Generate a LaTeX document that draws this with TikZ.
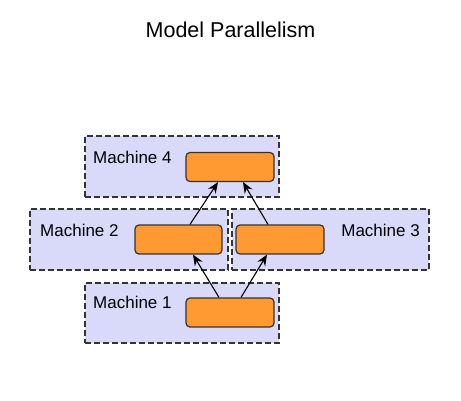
\documentclass[tikz,border=0pt]{standalone}
\usepackage{fontspec}
\setmainfont{Liberation Sans}
\usepackage{tikz}
\usetikzlibrary{arrows.meta}
\definecolor{machinefill}{HTML}{D9D9FA}
\definecolor{unitfill}{HTML}{FF9A33}
\definecolor{edge}{HTML}{333333}

\tikzset{
    machine/.style={draw=edge, fill=machinefill, dash pattern=on 6pt off 3pt, line width=1.3pt, minimum height=61pt, inner sep=0pt},
    unit/.style={draw=edge, fill=unitfill, rounded corners=4pt, line width=1.2pt, minimum width=88pt, minimum height=29pt, inner sep=0pt},
    mlabel/.style={font=\fontsize{17}{20}\selectfont, inner sep=0pt},
    feed/.style={-{Stealth[length=11pt, width=9pt]}, line width=1.1pt}
}

\begin{document}
\begin{tikzpicture}[x=1pt, y=-1pt]
    \useasboundingbox (0, 0) rectangle (461, 401);
    %title
    \node[font=\fontsize{21.5}{25}\selectfont] (title) at (230.5, 30) {Model Parallelism};
    %the machines
    \node[machine, minimum width=194pt] (m4) at (182, 166.5) {};
    \node[machine, minimum width=198pt] (m2) at (129, 239.5) {};
    \node[machine, minimum width=197pt] (m3) at (330.5, 239.5) {};
    \node[machine, minimum width=194pt, minimum height=60pt] (m1) at (182, 313) {};
    %legends
    \node[mlabel, anchor=west] (l4) at (93, 157) {Machine 4};
    \node[mlabel, anchor=west] (l2) at (40, 230) {Machine 2};
    \node[mlabel, anchor=east] (l3) at (420, 230) {Machine 3};
    \node[mlabel, anchor=west] (l1) at (93, 302) {Machine 1};
    %the layers
    \node[unit] (u4) at (230, 167) {};
    \node[unit, minimum width=87pt] (u2) at (178.5, 239.5) {};
    \node[unit] (u3) at (280, 239.5) {};
    \node[unit] (u1) at (230, 312.5) {};
    %the arrows
    \draw[feed] ([xshift=-11pt]u1.north) -- ([xshift=14.5pt]u2.south);
    \draw[feed] ([xshift=11pt]u1.north) -- ([xshift=-13pt]u3.south);
    \draw[feed] ([xshift=11.5pt]u2.north) -- ([xshift=-12pt]u4.south);
    \draw[feed] ([xshift=-12pt]u3.north) -- ([xshift=13pt]u4.south);
\end{tikzpicture}
\end{document}
